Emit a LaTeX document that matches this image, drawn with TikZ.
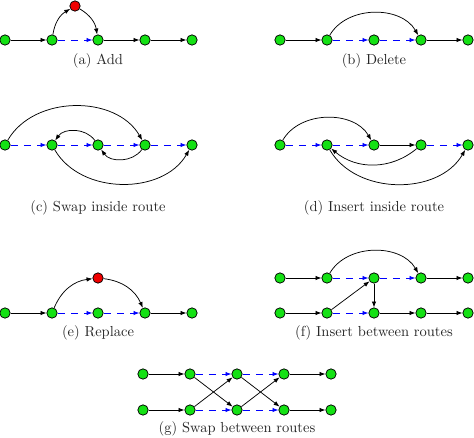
\documentclass[tikz,border=0pt]{standalone}
\usetikzlibrary{arrows.meta}
\definecolor{ngreen}{RGB}{20,225,20}
\definecolor{nred}{RGB}{240,0,0}
\begin{document}
\begin{tikzpicture}[x=0.675pt,y=-0.675pt,
  gn/.style={circle,draw=black,line width=0.5pt,fill=ngreen,minimum size=7pt,inner sep=0pt},
  rn/.style={gn,fill=nred},
  ar/.style={-{Latex[length=4pt,width=3pt]},line width=0.5pt,draw=black},
  da/.style={-{Latex[length=4pt,width=3pt]},line width=0.6pt,draw=blue,dash pattern=on 5pt off 4pt},
  captxt/.style={font=\fontsize{9.8}{12}\selectfont,inner sep=0pt,text=black!85}]
\useasboundingbox (0,0) rectangle (474,438);
% (a)
\foreach \i/\x in {1/5,2/52,3/98,4/145,5/192}{\node[gn] (a\i) at (\x,40) {};}
\node[rn] (ar) at (75,6) {};
\draw[ar] (a1) -- (a2);
\draw[da] (a2) -- (a3);
\draw[ar] (a3) -- (a4);
\draw[ar] (a4) -- (a5);
\draw[ar] (a2) to[bend left=25] (ar);
\draw[ar] (ar) to[bend left=25] (a3);
\node[captxt] (ca) at (98,61) {(a) Add};
% (b)
\foreach \i/\x in {1/280,2/327,3/374,4/421,5/468}{\node[gn] (b\i) at (\x,40) {};}
\draw[ar] (b1) -- (b2);
\draw[da] (b2) -- (b3);
\draw[da] (b3) -- (b4);
\draw[ar] (b4) -- (b5);
\draw[ar] (b2) to[out=60,in=120] (b4);
\node[captxt] (cb) at (374,61) {(b) Delete};
% (c)
\foreach \i/\x in {1/5,2/52,3/98,4/145,5/192}{\node[gn] (c\i) at (\x,145) {};}
\draw[da] (c1) -- (c2);
\draw[da] (c2) -- (c3);
\draw[da] (c3) -- (c4);
\draw[da] (c4) -- (c5);
\draw[ar] (c1) to[out=60,in=120] (c4);
\draw[ar] (c3) to[out=125,in=55] (c2);
\draw[ar] (c4) to[out=-125,in=-55] (c3);
\draw[ar] (c2) to[out=-60,in=-120] (c5);
\node[captxt] (cc) at (98,208) {(c) Swap inside route};
% (d)
\foreach \i/\x in {1/280,2/327,3/374,4/421,5/468}{\node[gn] (d\i) at (\x,145) {};}
\draw[da] (d1) -- (d2);
\draw[da] (d2) -- (d3);
\draw[ar] (d3) -- (d4);
\draw[da] (d4) -- (d5);
\draw[ar] (d1) to[out=60,in=120] (d3);
\draw[ar] (d4) to[out=-140,in=-40] (d2);
\draw[ar] (d2) to[out=-60,in=-120] (d5);
\node[captxt] (cd) at (374,208) {(d) Insert inside route};
% (e)
\foreach \i/\x in {1/5,2/52,3/98,4/145,5/192}{\node[gn] (e\i) at (\x,313) {};}
\node[rn] (er) at (98,278) {};
\draw[ar] (e1) -- (e2);
\draw[da] (e2) -- (e3);
\draw[da] (e3) -- (e4);
\draw[ar] (e4) -- (e5);
\draw[ar] (e2) to[bend left=30] (er);
\draw[ar] (er) to[bend left=30] (e4);
\node[captxt] (ce) at (98,333) {(e) Replace};
% (f)
\foreach \i/\x in {1/280,2/327,3/374,4/421,5/468}{\node[gn] (f\i) at (\x,278) {}; \node[gn] (h\i) at (\x,313) {};}
\draw[ar] (f1) -- (f2);
\draw[da] (f2) -- (f3);
\draw[da] (f3) -- (f4);
\draw[ar] (f4) -- (f5);
\draw[ar] (f2) to[out=60,in=120] (f4);
\draw[ar] (f3) -- (h3);
\draw[ar] (h1) -- (h2);
\draw[da] (h2) -- (h3);
\draw[ar] (h2) -- (f3);
\draw[ar] (h3) -- (h4);
\draw[ar] (h4) -- (h5);
\node[captxt] (cf) at (374,333) {(f) Insert between routes};
% (g)
\foreach \i/\x in {1/143,2/190,3/237,4/284,5/331}{\node[gn] (g\i) at (\x,374) {}; \node[gn] (k\i) at (\x,410) {};}
\draw[ar] (g1) -- (g2);
\draw[da] (g2) -- (g3);
\draw[da] (g3) -- (g4);
\draw[ar] (g4) -- (g5);
\draw[ar] (k1) -- (k2);
\draw[da] (k2) -- (k3);
\draw[da] (k3) -- (k4);
\draw[ar] (k4) -- (k5);
\draw[ar] (g2) -- (k3);
\draw[ar] (k2) -- (g3);
\draw[ar] (g3) -- (k4);
\draw[ar] (k3) -- (g4);
\node[captxt] (cg) at (237,429) {(g) Swap between routes};
\end{tikzpicture}
\end{document}
